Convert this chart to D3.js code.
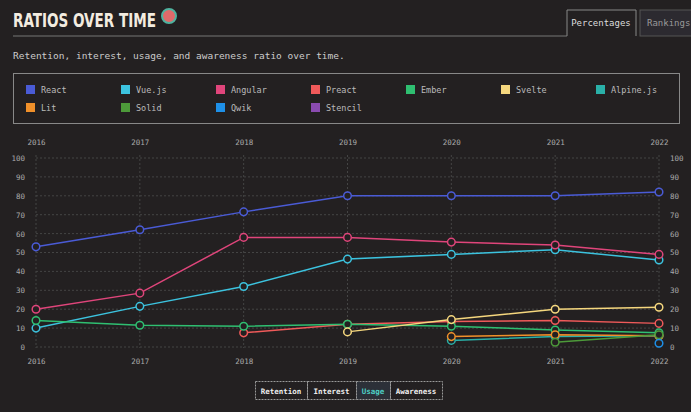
<!DOCTYPE html><html><head><meta charset="utf-8">
<script src="https://cdn.jsdelivr.net/npm/d3@7"></script>
<style>body{margin:0;background:#232021;}svg{display:block}</style></head><body>
<svg id="c" width="691" height="412"></svg>
<script>
const years=[2016,2017,2018,2019,2020,2021,2022];
const yTicks=[0,10,20,30,40,50,60,70,80,90,100];
const names=["React","Vue.js","Angular","Preact","Ember","Svelte","Alpine.js","Lit","Solid","Qwik","Stencil"];
const colors=["#4a5bd6","#3cc3df","#e0457b","#f05a5a","#2fbf71","#f5d77e","#2ab0a8","#f0902a","#4d9a3a","#1e90e8","#8a4bb0"];
const React_=[53,62,71.5,80,80,80,82];
const Vue=[10,21.5,32,46.5,49,51.5,46];
const Angular=[20,28.5,58,58,55.5,54,49];
const Preact=[null,null,7.5,12,13.5,14,12.5];
const Ember=[14,11.5,11,12,11,9,7.5];
const Svelte=[null,null,null,8,14.5,20,21];
const Alpine=[null,null,null,null,3.5,5.5,6];
const Lit=[null,null,null,null,5.5,6.5,6];
const Solid=[null,null,null,null,null,2.5,6.5];
const Qwik=[null,null,null,null,null,null,2];
const Stencil=[null,null,null,null,null,null,null];
const series=[React_,Vue,Angular,Preact,Ember,Svelte,Alpine,Lit,Solid,Qwik,Stencil];
const buttons=["Retention","Interest","Usage","Awareness"];
const mono="'DejaVu Sans Mono', monospace";
const svg=d3.select("#c");
// header
svg.append("text").attr("x",13).attr("y",27).text("RATIOS OVER TIME").attr("fill","#f3ece0")
 .attr("font-family","'DejaVu Sans Condensed',sans-serif").attr("font-weight","bold").attr("font-size",20).attr("textLength",143).attr("lengthAdjust","spacingAndGlyphs");
svg.append("circle").attr("cx",169).attr("cy",16).attr("r",7).attr("fill","#e06a6a").attr("stroke","#4fb3a0").attr("stroke-width",2);
svg.append("line").attr("x1",13).attr("x2",567).attr("y1",36).attr("y2",36).attr("stroke","#777");
svg.append("path").attr("d","M567,36V10H636V36").attr("fill","#232021").attr("stroke","#888");
svg.append("text").attr("x",601).attr("y",26).attr("text-anchor","middle").text("Percentages").attr("fill","#ddd").attr("font-family",mono).attr("font-size",9);
svg.append("rect").attr("x",640).attr("y",10).attr("width",60).attr("height",26).attr("fill","#2c2a30").attr("stroke","#555");
svg.append("text").attr("x",647).attr("y",26).text("Rankings").attr("fill","#999").attr("font-family",mono).attr("font-size",9);
svg.append("text").attr("x",13).attr("y",59).text("Retention, interest, usage, and awareness ratio over time.").attr("fill","#ccc").attr("font-family",mono).attr("font-size",9.5);
// legend
svg.append("rect").attr("x",13.5).attr("y",73.5).attr("width",666).attr("height",50).attr("fill","none").attr("stroke","#888");
names.forEach((n,i)=>{const col=i%7,row=Math.floor(i/7);const x=26+col*95,y=85+row*18;
 svg.append("rect").attr("x",x).attr("y",y).attr("width",9).attr("height",9).attr("fill",colors[i]);
 svg.append("text").attr("x",x+15).attr("y",y+8).text(n).attr("fill","#bbb").attr("font-family",mono).attr("font-size",8.5);});
// chart
const x=d3.scalePoint().domain(years).range([36,659]);
const y=d3.scaleLinear().domain([0,100]).range([347,158]);
const g=svg.append("g");
years.forEach(yr=>g.append("line").attr("x1",x(yr)).attr("x2",x(yr)).attr("y1",155).attr("y2",348).attr("stroke","#444").attr("stroke-dasharray","2,2"));
yTicks.forEach(t=>g.append("line").attr("x1",36).attr("x2",659).attr("y1",y(t)).attr("y2",y(t)).attr("stroke","#444").attr("stroke-dasharray","2,2"));
const ax=(a,tr)=>{const gg=svg.append("g").attr("transform",tr).call(a);gg.select(".domain").remove();gg.selectAll("line").remove();gg.selectAll("text").attr("fill","#aaa").attr("font-family",mono).attr("font-size",7.5);return gg;};
ax(d3.axisTop(x).tickFormat(d3.format("d")),"translate(0,154)");
ax(d3.axisBottom(x).tickFormat(d3.format("d")),"translate(0,350)");
ax(d3.axisLeft(y).tickValues(yTicks).tickPadding(2),"translate(33,0)");
ax(d3.axisRight(y).tickValues(yTicks).tickPadding(2),"translate(662,0)");
const line=d3.line().defined(d=>d!=null).x((d,i)=>x(years[i])).y(d=>y(d));
series.forEach((s,k)=>{
 g.append("path").attr("d",line(s)).attr("fill","none").attr("stroke",colors[k]).attr("stroke-width",1.5);
});
series.forEach((s,k)=>{
 s.forEach((v,i)=>{if(v==null)return;g.append("circle").attr("cx",x(years[i])).attr("cy",y(v)).attr("r",3.8).attr("fill","#232021").attr("stroke",colors[k]).attr("stroke-width",1.5);});
});
// buttons
let bx=255;const bw=[52,49,34,52];
buttons.forEach((b,i)=>{const sel=b==="Usage";
 svg.append("rect").attr("x",bx+.5).attr("y",381.5).attr("width",bw[i]).attr("height",18).attr("fill",sel?"#2c3038":"none").attr("stroke","#999").attr("stroke-dasharray","2,1");
 svg.append("text").attr("x",bx+bw[i]/2).attr("y",394).attr("text-anchor","middle").text(b).attr("fill",sel?"#4fd1c5":"#eee").attr("font-family",mono).attr("font-weight","bold").attr("font-size",7.5);
 bx+=bw[i];});
</script></body></html>
